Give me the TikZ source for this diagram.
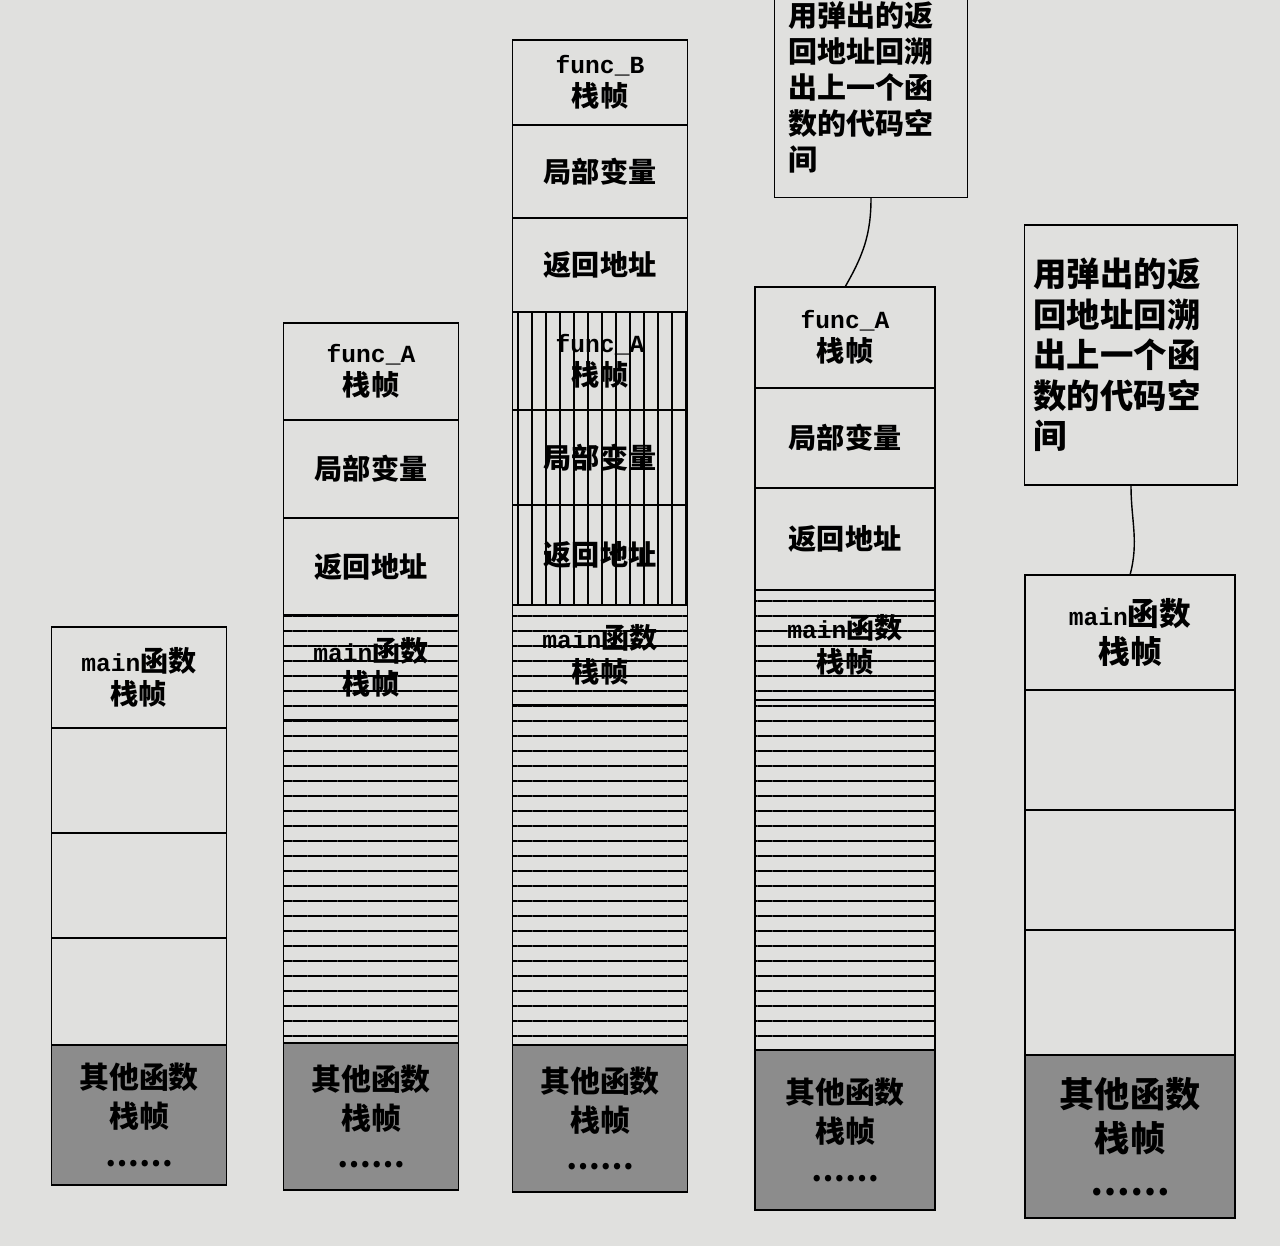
\documentclass[tikz,border=0pt]{standalone}
\usepackage{fontspec}
\setmainfont{Liberation Serif}
\setmonofont{Liberation Mono}
\newfontfamily\cjk{Noto Sans CJK SC}
\usetikzlibrary{positioning, patterns.meta}
\definecolor{paper}{RGB}{224,224,222}
\definecolor{shade}{RGB}{140,140,140}
\newcommand{\fname}[1]{{\fontsize{14}{14}\selectfont\ttfamily\bfseries #1}}

\begin{document}
\begin{tikzpicture}[
    box/.style={draw, line width=0.8pt, inner sep=0pt, outer sep=0pt, align=center,
        minimum width=3.5cm, font=\cjk\bfseries\fontsize{16}{19}\selectfont},
    hlines/.style={pattern={Lines[angle=0, distance=0.3cm, line width=0.8pt]}},
    vlines/.style={pattern={Lines[angle=90, distance=0.28cm, line width=0.7pt]}},
    other/.style={box, fill=shade, font=\cjk\bfseries\fontsize{17}{22}\selectfont},
    note/.style={draw, line width=0.8pt, align=left, inner sep=0pt, text width=3.3cm,
        font=\cjk\bfseries\fontsize{16.5}{20.5}\selectfont}
]
    \useasboundingbox[fill=paper] (0,0) rectangle (25.6,-24.92);

    % column 1
    \node[box, anchor=north, minimum height=2.02cm] (M1) at (2.78,-12.54) {\fname{main}函数\\栈帧};
    \node[box, minimum height=2.1cm, below=0pt of M1] (E1a) {};
    \node[box, minimum height=2.1cm, below=0pt of E1a] (E1b) {};
    \node[box, minimum height=2.14cm, below=0pt of E1b] (E1c) {};
    \node[other, minimum height=2.8cm, below=0pt of E1c] (O1) {其他函数\\栈帧\\……};

    % column 2
    \node[box, anchor=north, minimum height=1.94cm] (FA2) at (7.42,-6.46) {\fname{func\_A}\\栈帧};
    \node[box, minimum height=1.96cm, below=0pt of FA2] (LA2) {局部变量};
    \node[box, minimum height=1.94cm, below=0pt of LA2] (RA2) {返回地址};
    \node[box, hlines, minimum height=2.1cm, below=0pt of RA2] (M2) {\fname{main}函数\\栈帧};
    \node[box, hlines, minimum height=6.46cm, below=0pt of M2] (H2) {};
    \node[other, minimum height=2.94cm, below=0pt of H2] (O2) {其他函数\\栈帧\\……};

    % column 3
    \node[box, anchor=north, minimum height=1.7cm] (FB3) at (12.0,-0.8) {\fname{func\_B}\\栈帧};
    \node[box, minimum height=1.86cm, below=0pt of FB3] (LB3) {局部变量};
    \node[box, minimum height=1.88cm, below=0pt of LB3] (RB3) {返回地址};
    \node[box, vlines, minimum height=1.96cm, below=0pt of RB3] (FA3) {\fname{func\_A}\\栈帧};
    \node[box, vlines, minimum height=1.9cm, below=0pt of FA3] (LA3) {局部变量};
    \node[box, vlines, minimum height=2.0cm, below=0pt of LA3] (RA3) {返回地址};
    \node[box, hlines, minimum height=2.0cm, below=0pt of RA3] (M3) {\fname{main}函数\\栈帧};
    \node[box, hlines, minimum height=6.8cm, below=0pt of M3] (H3) {};
    \node[other, minimum height=2.94cm, below=0pt of H3] (O3) {其他函数\\栈帧\\……};

    % column 4
    \node[box, anchor=north, minimum width=3.6cm, minimum height=2.02cm] (FA4) at (16.9,-5.74) {\fname{func\_A}\\栈帧};
    \node[box, minimum width=3.6cm, minimum height=2.0cm, below=0pt of FA4] (LA4) {局部变量};
    \node[box, minimum width=3.6cm, minimum height=2.04cm, below=0pt of LA4] (RA4) {返回地址};
    \node[box, hlines, minimum width=3.6cm, minimum height=2.2cm, below=0pt of RA4] (M4) {\fname{main}函数\\栈帧};
    \node[box, hlines, minimum width=3.6cm, minimum height=7.0cm, below=0pt of M4] (H4) {};
    \node[other, minimum width=3.6cm, minimum height=3.2cm, below=0pt of H4] (O4) {其他函数\\栈帧\\……};

    % column 5
    \begin{scope}[box/.append style={minimum width=4.2cm, font=\cjk\bfseries\fontsize{18}{22}\selectfont}]
        \node[box, anchor=north, minimum height=2.3cm] (M5) at (22.6,-11.5) {\fname{main}函数\\栈帧};
        \node[box, minimum height=2.4cm, below=0pt of M5] (E5a) {};
        \node[box, minimum height=2.4cm, below=0pt of E5a] (E5b) {};
        \node[box, minimum height=2.5cm, below=0pt of E5b] (E5c) {};
        \node[other, minimum height=3.26cm, font=\cjk\bfseries\fontsize{20}{25}\selectfont, below=0pt of E5c] (O5) {其他函数\\栈帧\\……};
    \end{scope}

    % notes
    \node[note, minimum width=3.86cm, minimum height=4.4cm] (N1) at (17.42,-1.75)
        {用弹出的返\\回地址回溯\\出上一个函\\数的代码空\\间};
    \node[note, text width=3.9cm, minimum width=4.26cm, minimum height=5.2cm,
        font=\cjk\bfseries\fontsize{19}{23}\selectfont] (N2) at (22.62,-7.1)
        {用弹出的返\\回地址回溯\\出上一个函\\数的代码空\\间};
    \draw[line width=0.8pt] (N1.south) to[out=-90, in=60] (FA4.north);
    \draw[line width=0.8pt] (N2.south) to[out=-90, in=75] (M5.north);
\end{tikzpicture}
\end{document}
